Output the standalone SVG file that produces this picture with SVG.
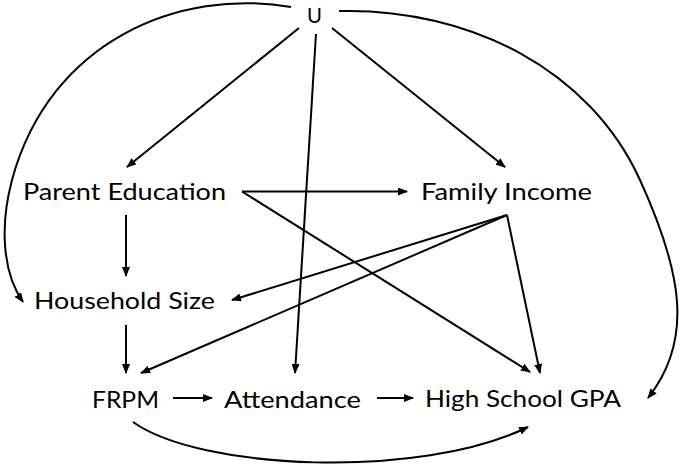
<svg xmlns="http://www.w3.org/2000/svg" width="685" height="468" viewBox="0 0 685 468">
<style>
.lbl{font-family:Lato,"Open Sans","Liberation Sans",sans-serif;font-size:24px;fill:#000}
.edge{fill:none;stroke:#000;stroke-width:2}
</style>
<defs>
<marker id="ah" viewBox="0 0 10 8" refX="9" refY="4" markerWidth="10" markerHeight="8" markerUnits="userSpaceOnUse" orient="auto">
<path d="M0,0 L10,4 L0,8 z" fill="#000"/>
</marker>
</defs>
<rect width="685" height="468" fill="#fff"/>
<g id="connectors">
<path class="edge" marker-end="url(#ah)" d="M299,28 L127,167"/>
<path class="edge" marker-end="url(#ah)" d="M332,28 L505,167"/>
<path class="edge" marker-end="url(#ah)" d="M316,34 L295,373"/>
<path class="edge" marker-end="url(#ah)" d="M242,191.5 L407,191.5"/>
<path class="edge" marker-end="url(#ah)" d="M242,191.5 L530,372"/>
<path class="edge" marker-end="url(#ah)" d="M126,215 L126,276"/>
<path class="edge" marker-end="url(#ah)" d="M507,215 L232,300"/>
<path class="edge" marker-end="url(#ah)" d="M507,215 L141,373"/>
<path class="edge" marker-end="url(#ah)" d="M507,215 L540,373"/>
<path class="edge" marker-end="url(#ah)" d="M126,325 L126,373"/>
<path class="edge" marker-end="url(#ah)" d="M173,398 L212,398"/>
<path class="edge" marker-end="url(#ah)" d="M377,398 L413,398"/>
<path class="edge" marker-end="url(#ah)" d="M133,422 C200,470 420,480 528,427"/>
<path class="edge" marker-end="url(#ah)" d="M291,7 C180,-12 50,40 12,180 C0,225 2,272 23,302"/>
<path class="edge" marker-end="url(#ah)" d="M339,11 C470,8 590,70 640,180 C682,272 694,340 648,398"/>
</g>
<g id="node-u"><text class="lbl" x="307" y="22.5" style="font-size:22px" textLength="15" lengthAdjust="spacingAndGlyphs">U</text></g>
<g id="node-parent-education"><text class="lbl" x="23" y="200" textLength="203" lengthAdjust="spacingAndGlyphs">Parent Education</text></g>
<g id="node-family-income"><text class="lbl" x="421" y="200" textLength="171" lengthAdjust="spacingAndGlyphs">Family Income</text></g>
<g id="node-household-size"><text class="lbl" x="34" y="309" textLength="181" lengthAdjust="spacingAndGlyphs">Household Size</text></g>
<g id="node-frpm"><text class="lbl" x="92" y="408" textLength="67" lengthAdjust="spacingAndGlyphs">FRPM</text></g>
<g id="node-attendance"><text class="lbl" x="224" y="408" textLength="137" lengthAdjust="spacingAndGlyphs">Attendance</text></g>
<g id="node-gpa"><text class="lbl" x="425" y="407" textLength="196" lengthAdjust="spacingAndGlyphs">High School GPA</text></g>
</svg>
